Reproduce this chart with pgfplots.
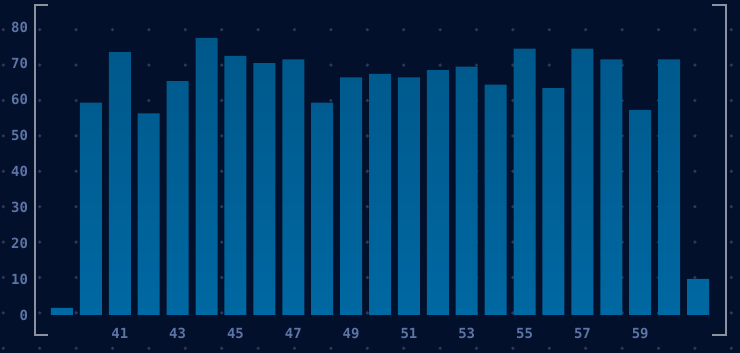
\documentclass[border=0pt]{standalone}
\usepackage{pgfplots}
\pgfplotsset{compat=1.18}
\usepackage{fontspec}
\setmainfont{DejaVu Sans Mono}
\definecolor{bg}{RGB}{3,16,43}
\definecolor{dotc}{RGB}{44,56,86}
\definecolor{lbl}{RGB}{92,117,166}
\definecolor{brk}{RGB}{140,145,160}
\definecolor{bartop}{RGB}{0,88,138}
\definecolor{barbot}{RGB}{0,104,162}
\begin{document}
\begin{tikzpicture}
\fill[bg] (0,0) rectangle (740bp,353bp);
\foreach \i in {0,...,20}{
  \foreach \j in {0,...,9}{
    \fill[dotc] ({3.3bp+36.4bp*\i},{353bp-29.7bp-35.4bp*\j}) circle (1.8bp);
  }
}
\begin{axis}[
  scale only axis,
  width=665bp, height=288bp,
  at={(47.5bp,38bp)}, anchor=south west,
  xmin=-0.5, xmax=22.5, ymin=0, ymax=80,
  axis lines=none,
  ybar, bar width=22bp,
  xtick={2,4,...,20},
  xticklabels={41,43,45,47,49,51,53,55,57,59},
  ytick={0,10,...,80},
  major tick length=0pt,
  tick label style={font=\bfseries\fontsize{14}{14}\selectfont, text=lbl},
  /pgf/number format/assume math mode=true,
  hide x axis=false, hide y axis=false,
  x axis line style={draw=none}, y axis line style={draw=none},
  xticklabel style={yshift=-10bp},
  yticklabel style={xshift=-16bp},
  clip=false,
]
\addplot[draw=none, top color=bartop, bottom color=barbot] coordinates {
(0,2) (1,59) (2,73) (3,56) (4,65) (5,77) (6,72) (7,70) (8,71) (9,59)
(10,66) (11,67) (12,66) (13,68) (14,69) (15,64) (16,74) (17,63) (18,74)
(19,71) (20,57) (21,71) (22,10)
};
\end{axis}
\draw[brk, line width=2bp] (48bp,348bp) -- (35bp,348bp) -- (35bp,18bp) -- (48bp,18bp);
\draw[brk, line width=2bp] (712bp,348bp) -- (726bp,348bp) -- (726bp,18bp) -- (712bp,18bp);
\pgfresetboundingbox
\path (0,0) rectangle (740bp,353bp);
\end{tikzpicture}
\end{document}
